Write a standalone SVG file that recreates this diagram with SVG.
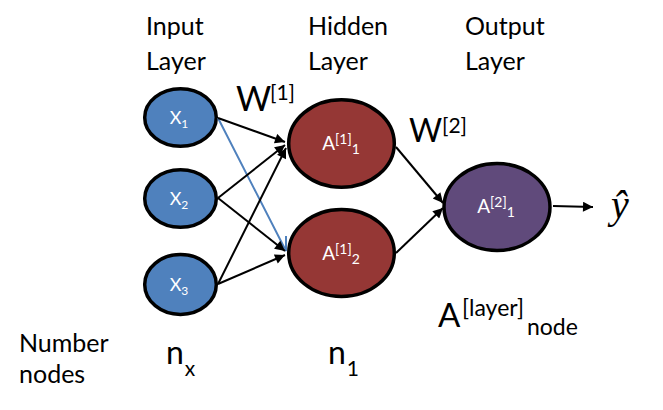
<svg xmlns="http://www.w3.org/2000/svg" width="663" height="410" viewBox="0 0 663 410">
<defs>
<marker id="ah" viewBox="0 0 10 10" refX="10" refY="5" markerWidth="12" markerHeight="10" markerUnits="userSpaceOnUse" orient="auto"><path d="M0,0 L10,5 L0,10 z" fill="#000"/></marker>
</defs>
<style>
.t{font-family:Lato,"Liberation Sans",sans-serif;fill:#000}
.lbl{font-size:25px}
.node ellipse{stroke:#000;stroke-width:3.5}
.in{fill:#4F81BD}.hid{fill:#953735}.out{fill:#604A7B}
.nt{font-family:Lato,"Liberation Sans",sans-serif;fill:#fff;text-anchor:middle}
.con{stroke:#000;stroke-width:2;fill:none;marker-end:url(#ah)}
.blue{stroke:#4F81BD;stroke-width:2;fill:none}
</style>
<rect width="663" height="410" fill="#fff"/>
<g id="labels">
<text class="t lbl" x="146" y="35">Input</text>
<text class="t lbl" x="146" y="70">Layer</text>
<text class="t lbl" x="308" y="35">Hidden</text>
<text class="t lbl" x="308" y="70">Layer</text>
<text class="t lbl" x="465" y="35">Output</text>
<text class="t lbl" x="465" y="70">Layer</text>
<text class="t" x="236" y="111" font-size="34">W<tspan x="270" y="100" font-size="21">[1]</tspan></text>
<text class="t" x="409" y="142" font-size="32">W<tspan x="442" y="133" font-size="21">[2]</tspan></text>
<text class="t" x="438" y="327" font-size="33">A<tspan x="462" y="316" font-size="23">[layer]</tspan><tspan x="527" y="335" font-size="23">node</tspan></text>
<text class="t lbl" x="19" y="352">Number</text>
<text class="t lbl" x="19" y="383">nodes</text>
<text class="t" x="166" y="364" font-size="32">n<tspan dx="1" y="376" font-size="21">x</tspan></text>
<text class="t" x="328" y="364" font-size="32">n<tspan dx="1" y="376" font-size="21">1</tspan></text>
<text x="611" y="218" font-family="'Liberation Serif',serif" font-style="italic" font-size="40" fill="#000">ŷ</text>
</g>
<g id="x1" class="node"><ellipse class="in" cx="180.5" cy="117.5" rx="35.8" ry="28.8"/><text class="nt" x="179" y="124" font-size="18">X<tspan font-size="12" dy="4">1</tspan></text></g>
<g id="x2" class="node"><ellipse class="in" cx="180.5" cy="198.5" rx="35.8" ry="28.8"/><text class="nt" x="179" y="205" font-size="18">X<tspan font-size="12" dy="4">2</tspan></text></g>
<g id="x3" class="node"><ellipse class="in" cx="180.5" cy="284.5" rx="35.8" ry="30"/><text class="nt" x="179" y="291" font-size="18">X<tspan font-size="12" dy="4">3</tspan></text></g>
<g id="a11" class="node"><ellipse class="hid" cx="341.5" cy="143.5" rx="52.8" ry="43.8"/><text class="nt" x="341" y="150" font-size="19">A<tspan font-size="14" dy="-6">[1]</tspan><tspan font-size="14" dy="10">1</tspan></text></g>
<g id="a12" class="node"><ellipse class="hid" cx="341.5" cy="253" rx="52.8" ry="43.5"/><text class="nt" x="341" y="260" font-size="19">A<tspan font-size="14" dy="-6">[1]</tspan><tspan font-size="14" dy="10">2</tspan></text></g>
<g id="a21" class="node"><ellipse class="out" cx="497" cy="207" rx="53" ry="43.5"/><text class="nt" x="496" y="213" font-size="19">A<tspan font-size="14" dy="-6">[2]</tspan><tspan font-size="14" dy="10">1</tspan></text></g>
<g id="connectors">
<path class="blue" d="M218,118 L286,251 L286,236"/>
<path class="con" d="M218,118 L285,142"/>
<path class="con" d="M218,198 L285,145"/>
<path class="con" d="M218,284 L286,148"/>
<path class="con" d="M218,198 L285,251"/>
<path class="con" d="M218,284 L285,255"/>
<path class="con" d="M396,147 L443,203"/>
<path class="con" d="M396,253 L443,208"/>
<path class="con" d="M553,206 L593,207"/>
</g>
</svg>
